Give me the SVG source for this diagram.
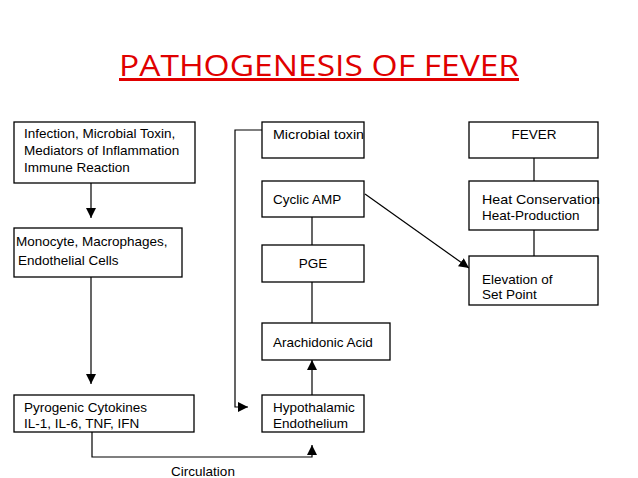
<svg xmlns="http://www.w3.org/2000/svg" width="638" height="478" viewBox="0 0 638 478">
<defs>
<style>
.b{fill:#fff;stroke:#000;stroke-width:1.3}
.t{font-family:"Liberation Sans",Arial,sans-serif;font-size:13.5px;fill:#000}
.c{fill:none;stroke:#000;stroke-width:1.2}
</style>
<marker id="a" viewBox="0 0 10 10" refX="10" refY="5" markerWidth="10" markerHeight="10" markerUnits="userSpaceOnUse" orient="auto"><path d="M0,0L10,5L0,10z"/></marker>
</defs>
<rect width="638" height="478" fill="#fff"/>
<text x="319" y="76" text-anchor="middle" font-family="'Open Sans','Liberation Sans',sans-serif" font-size="30" fill="#e00000" text-decoration="underline" textLength="400" lengthAdjust="spacingAndGlyphs">PATHOGENESIS OF FEVER</text>
<g id="connectors">
<path class="c" d="M91,183V218" marker-end="url(#a)"/>
<path class="c" d="M91,277V384" marker-end="url(#a)"/>
<path class="c" d="M92,432V457H312V445" marker-end="url(#a)"/>
<path class="c" d="M262,130H235V407H248" marker-end="url(#a)"/>
<path class="c" d="M312,395V360" marker-end="url(#a)"/>
<path class="c" d="M312,282V323M312,217V245"/>
<path class="c" d="M365,194L469,268" marker-end="url(#a)"/>
<path class="c" d="M534,158V181M534,230V256"/>
</g>
<g id="n1"><rect class="b" x="14" y="122" width="181" height="61"/><text class="t" x="24" y="138">Infection, Microbial Toxin,</text><text class="t" x="24" y="155">Mediators of Inflammation</text><text class="t" x="24" y="172">Immune Reaction</text></g>
<g id="n2"><rect class="b" x="14" y="228" width="168" height="49"/><text class="t" x="16" y="246">Monocyte, Macrophages,</text><text class="t" x="18" y="265">Endothelial Cells</text></g>
<g id="n3"><rect class="b" x="14" y="395" width="180" height="37"/><text class="t" x="24" y="412">Pyrogenic Cytokines</text><text class="t" x="24" y="428">IL-1, IL-6, TNF, IFN</text></g>
<text class="t" x="203" y="476" text-anchor="middle">Circulation</text>
<g id="n4"><rect class="b" x="262" y="122" width="102" height="36"/><text class="t" x="273" y="139" textLength="91" lengthAdjust="spacingAndGlyphs">Microbial toxin</text></g>
<g id="n5"><rect class="b" x="262" y="181" width="102" height="36"/><text class="t" x="273" y="204">Cyclic AMP</text></g>
<g id="n6"><rect class="b" x="262" y="245" width="102" height="37"/><text class="t" x="313" y="268" text-anchor="middle">PGE</text></g>
<g id="n7"><rect class="b" x="262" y="323" width="128" height="37"/><text class="t" x="273" y="347">Arachidonic Acid</text></g>
<g id="n8"><rect class="b" x="262" y="395" width="102" height="37"/><text class="t" x="273" y="412">Hypothalamic</text><text class="t" x="273" y="428">Endothelium</text></g>
<g id="n9"><rect class="b" x="469" y="122" width="129" height="36"/><text class="t" x="534" y="139" text-anchor="middle">FEVER</text></g>
<g id="n10"><rect class="b" x="469" y="181" width="129" height="49"/><text class="t" x="482" y="204" textLength="118" lengthAdjust="spacingAndGlyphs">Heat Conservation</text><text class="t" x="482" y="220">Heat-Production</text></g>
<g id="n11"><rect class="b" x="469" y="256" width="129" height="49"/><text class="t" x="482" y="284">Elevation of</text><text class="t" x="482" y="299">Set Point</text></g>
</svg>
